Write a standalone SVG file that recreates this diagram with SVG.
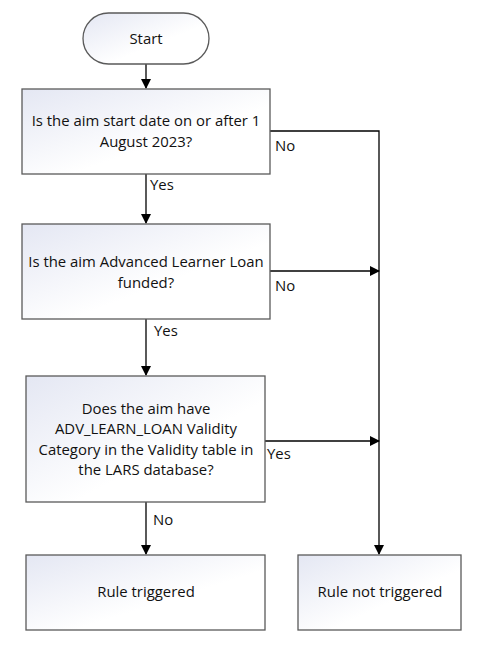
<svg xmlns="http://www.w3.org/2000/svg" width="481" height="646" viewBox="0 0 481 646">
<defs>
<linearGradient id="g" x1="0" y1="0" x2="1" y2="1">
<stop offset="0" stop-color="#e4e7f3"/>
<stop offset="0.6" stop-color="#ffffff"/>
</linearGradient>
<marker id="ah" markerWidth="10" markerHeight="10" refX="9" refY="5" orient="auto" markerUnits="userSpaceOnUse">
<path d="M0,0 L10,5 L0,10 Z" fill="#000"/>
</marker>
<style>
.n{fill:url(#g);stroke:#5a5a5a;stroke-width:1.3}
.t{font-family:"Open Sans","Liberation Sans",sans-serif;font-size:14.9px;fill:#111;text-anchor:middle}
.l{font-family:"Open Sans","Liberation Sans",sans-serif;font-size:14.9px;fill:#111}
.c{fill:none;stroke:#000;stroke-width:1.3}
</style>
</defs>
<rect width="481" height="646" fill="#fff"/>
<g id="connectors">
<path class="c" d="M146,64 V88" marker-end="url(#ah)"/>
<path class="c" d="M146,174 V223" marker-end="url(#ah)"/>
<path class="c" d="M146,319 V375" marker-end="url(#ah)"/>
<path class="c" d="M146,502 V554" marker-end="url(#ah)"/>
<path class="c" d="M270,131 H379 V554" marker-end="url(#ah)"/>
<path class="c" d="M270,271 H379" marker-end="url(#ah)"/>
<path class="c" d="M265,441 H379" marker-end="url(#ah)"/>
<text class="l" x="275" y="151">No</text>
<text class="l" x="150" y="190">Yes</text>
<text class="l" x="275" y="291">No</text>
<text class="l" x="154" y="336">Yes</text>
<text class="l" x="267" y="459">Yes</text>
<text class="l" x="153" y="525">No</text>
</g>
<g id="start">
<rect class="n" x="83" y="13" width="126" height="51" rx="25.5" ry="25.5"/>
<text class="t" x="146" y="44">Start</text>
</g>
<g id="q1">
<rect class="n" x="22" y="89" width="248" height="85"/>
<text class="t" x="146" y="126">Is the aim start date on or after 1</text>
<text class="t" x="146" y="147">August 2023?</text>
</g>
<g id="q2">
<rect class="n" x="22" y="224" width="248" height="95"/>
<text class="t" x="146" y="267">Is the aim Advanced Learner Loan</text>
<text class="t" x="146" y="288">funded?</text>
</g>
<g id="q3">
<rect class="n" x="26" y="376" width="239" height="126"/>
<text class="t" x="146" y="414">Does the aim have</text>
<text class="t" x="146" y="434">ADV_LEARN_LOAN Validity</text>
<text class="t" x="146" y="455">Category in the Validity table in</text>
<text class="t" x="146" y="475">the LARS database?</text>
</g>
<g id="triggered">
<rect class="n" x="26" y="555" width="239" height="75"/>
<text class="t" x="146" y="597">Rule triggered</text>
</g>
<g id="not-triggered">
<rect class="n" x="298" y="555" width="163" height="75"/>
<text class="t" x="380" y="597">Rule not triggered</text>
</g>
</svg>
